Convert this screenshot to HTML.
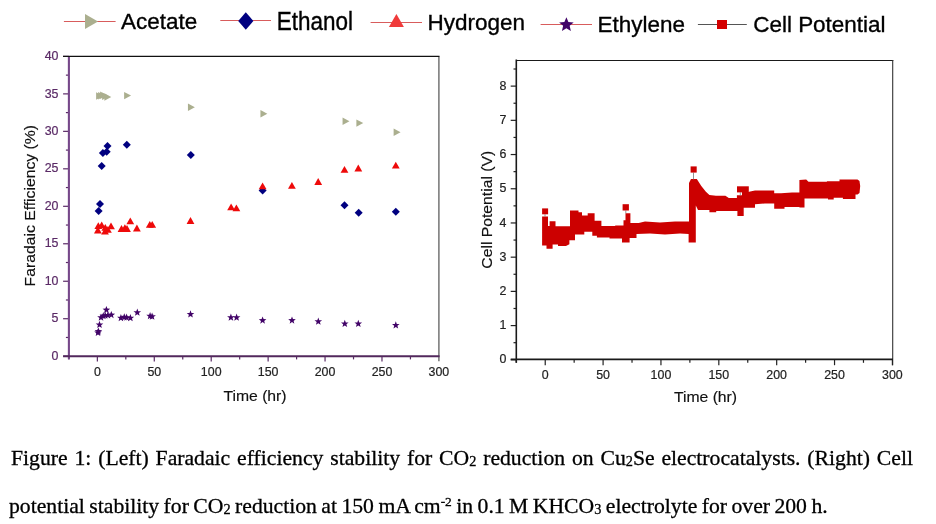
<!DOCTYPE html><html><head><meta charset="utf-8"><title>Figure 1</title><style>
html,body{margin:0;padding:0;background:#fff;}
body{width:936px;height:524px;overflow:hidden;position:relative;}
svg{position:absolute;left:0;top:0;}
.cap{position:absolute;left:11px;font-family:"Liberation Serif","Times New Roman",serif;font-size:21.7px;color:#000;white-space:nowrap;line-height:1;-webkit-text-stroke:0.3px #000;}
.cap sub{font-size:0.66em;vertical-align:-0.07em;line-height:0;}
.cap sup{font-size:0.62em;vertical-align:0.5em;line-height:0;}
</style></head><body>
<svg width="936" height="430" viewBox="0 0 936 430" font-family="Liberation Sans, Arial, sans-serif">
<line x1="63.9" y1="21.5" x2="115.6" y2="21.5" stroke="#d85c5c" stroke-width="1.05"/>
<polygon points="85.00,14.00 85.00,29.00 98.00,21.50" fill="#abaf8f"/>
<text transform="translate(121.10,28.60) scale(0.99,0.98)" font-size="22.7" fill="#000" stroke="#000" stroke-width="0.35">Acetate</text>
<line x1="220.3" y1="20.5" x2="271.0" y2="20.5" stroke="#d85c5c" stroke-width="1.05"/>
<polygon points="245.80,12.30 253.40,21.00 245.80,29.70 238.20,21.00" fill="#000080"/>
<text transform="translate(276.70,29.60) scale(0.99,1.12)" font-size="22.7" fill="#000" stroke="#000" stroke-width="0.35">Ethanol</text>
<line x1="370.6" y1="22.5" x2="422.0" y2="22.5" stroke="#d85c5c" stroke-width="1.05"/>
<polygon points="388.90,27.00 403.90,27.00 396.40,14.00" fill="#f03a3a"/>
<text transform="translate(427.50,30.00) scale(0.99,1.0)" font-size="22.7" fill="#000" stroke="#000" stroke-width="0.35">Hydrogen</text>
<line x1="540.6" y1="24.5" x2="592.0" y2="24.5" stroke="#d85c5c" stroke-width="1.05"/>
<polygon points="566.40,17.20 568.41,22.03 573.63,22.45 569.65,25.86 570.87,30.95 566.40,28.22 561.93,30.95 563.15,25.86 559.17,22.45 564.39,22.03" fill="#420468"/>
<text transform="translate(597.50,31.50) scale(0.99,1.0)" font-size="22.7" fill="#000" stroke="#000" stroke-width="0.35">Ethylene</text>
<line x1="697.9" y1="24.5" x2="746.8" y2="24.5" stroke="#555" stroke-width="1.05"/>
<rect x="717.0" y="20.0" width="10" height="9" fill="#d40000"/>
<text transform="translate(753.20,31.50) scale(0.99,1.0)" font-size="22.7" fill="#000" stroke="#000" stroke-width="0.35">Cell Potential</text>
<line x1="438.9" y1="56.4" x2="438.9" y2="361.2" stroke="#6a6a6a" stroke-width="1.4"/>
<line x1="63.10" y1="356.20" x2="68.90" y2="356.20" stroke="#5a2a66" stroke-width="1.2"/>
<text x="58.50" y="359.85" font-size="12.4" fill="#5a2a66" stroke="#5a2a66" stroke-width="0.2" text-anchor="end">0</text>
<line x1="65.90" y1="337.46" x2="68.90" y2="337.46" stroke="#5a2a66" stroke-width="1.2"/>
<line x1="63.10" y1="318.72" x2="68.90" y2="318.72" stroke="#5a2a66" stroke-width="1.2"/>
<text x="58.50" y="322.37" font-size="12.4" fill="#5a2a66" stroke="#5a2a66" stroke-width="0.2" text-anchor="end">5</text>
<line x1="65.90" y1="299.99" x2="68.90" y2="299.99" stroke="#5a2a66" stroke-width="1.2"/>
<line x1="63.10" y1="281.25" x2="68.90" y2="281.25" stroke="#5a2a66" stroke-width="1.2"/>
<text x="58.50" y="284.90" font-size="12.4" fill="#5a2a66" stroke="#5a2a66" stroke-width="0.2" text-anchor="end">10</text>
<line x1="65.90" y1="262.51" x2="68.90" y2="262.51" stroke="#5a2a66" stroke-width="1.2"/>
<line x1="63.10" y1="243.77" x2="68.90" y2="243.77" stroke="#5a2a66" stroke-width="1.2"/>
<text x="58.50" y="247.42" font-size="12.4" fill="#5a2a66" stroke="#5a2a66" stroke-width="0.2" text-anchor="end">15</text>
<line x1="65.90" y1="225.04" x2="68.90" y2="225.04" stroke="#5a2a66" stroke-width="1.2"/>
<line x1="63.10" y1="206.30" x2="68.90" y2="206.30" stroke="#5a2a66" stroke-width="1.2"/>
<text x="58.50" y="209.95" font-size="12.4" fill="#5a2a66" stroke="#5a2a66" stroke-width="0.2" text-anchor="end">20</text>
<line x1="65.90" y1="187.56" x2="68.90" y2="187.56" stroke="#5a2a66" stroke-width="1.2"/>
<line x1="63.10" y1="168.82" x2="68.90" y2="168.82" stroke="#5a2a66" stroke-width="1.2"/>
<text x="58.50" y="172.47" font-size="12.4" fill="#5a2a66" stroke="#5a2a66" stroke-width="0.2" text-anchor="end">25</text>
<line x1="65.90" y1="150.09" x2="68.90" y2="150.09" stroke="#5a2a66" stroke-width="1.2"/>
<line x1="63.10" y1="131.35" x2="68.90" y2="131.35" stroke="#5a2a66" stroke-width="1.2"/>
<text x="58.50" y="135.00" font-size="12.4" fill="#5a2a66" stroke="#5a2a66" stroke-width="0.2" text-anchor="end">30</text>
<line x1="65.90" y1="112.61" x2="68.90" y2="112.61" stroke="#5a2a66" stroke-width="1.2"/>
<line x1="63.10" y1="93.88" x2="68.90" y2="93.88" stroke="#5a2a66" stroke-width="1.2"/>
<text x="58.50" y="97.53" font-size="12.4" fill="#5a2a66" stroke="#5a2a66" stroke-width="0.2" text-anchor="end">35</text>
<line x1="65.90" y1="75.14" x2="68.90" y2="75.14" stroke="#5a2a66" stroke-width="1.2"/>
<line x1="63.10" y1="56.40" x2="68.90" y2="56.40" stroke="#5a2a66" stroke-width="1.2"/>
<text x="58.50" y="60.05" font-size="12.4" fill="#5a2a66" stroke="#5a2a66" stroke-width="0.2" text-anchor="end">40</text>
<line x1="68.90" y1="356.2" x2="68.90" y2="359.40" stroke="#5a2a66" stroke-width="1.2"/>
<line x1="97.36" y1="356.2" x2="97.36" y2="361.60" stroke="#5a2a66" stroke-width="1.2"/>
<text x="97.36" y="376.00" font-size="12.4" fill="#222" stroke="#222" stroke-width="0.2" text-anchor="middle">0</text>
<line x1="125.82" y1="356.2" x2="125.82" y2="359.40" stroke="#5a2a66" stroke-width="1.2"/>
<line x1="154.28" y1="356.2" x2="154.28" y2="361.60" stroke="#5a2a66" stroke-width="1.2"/>
<text x="154.28" y="376.00" font-size="12.4" fill="#222" stroke="#222" stroke-width="0.2" text-anchor="middle">50</text>
<line x1="182.75" y1="356.2" x2="182.75" y2="359.40" stroke="#5a2a66" stroke-width="1.2"/>
<line x1="211.21" y1="356.2" x2="211.21" y2="361.60" stroke="#5a2a66" stroke-width="1.2"/>
<text x="211.21" y="376.00" font-size="12.4" fill="#222" stroke="#222" stroke-width="0.2" text-anchor="middle">100</text>
<line x1="239.67" y1="356.2" x2="239.67" y2="359.40" stroke="#5a2a66" stroke-width="1.2"/>
<line x1="268.13" y1="356.2" x2="268.13" y2="361.60" stroke="#5a2a66" stroke-width="1.2"/>
<text x="268.13" y="376.00" font-size="12.4" fill="#222" stroke="#222" stroke-width="0.2" text-anchor="middle">150</text>
<line x1="296.59" y1="356.2" x2="296.59" y2="359.40" stroke="#5a2a66" stroke-width="1.2"/>
<line x1="325.05" y1="356.2" x2="325.05" y2="361.60" stroke="#5a2a66" stroke-width="1.2"/>
<text x="325.05" y="376.00" font-size="12.4" fill="#222" stroke="#222" stroke-width="0.2" text-anchor="middle">200</text>
<line x1="353.52" y1="356.2" x2="353.52" y2="359.40" stroke="#5a2a66" stroke-width="1.2"/>
<line x1="381.98" y1="356.2" x2="381.98" y2="361.60" stroke="#5a2a66" stroke-width="1.2"/>
<text x="381.98" y="376.00" font-size="12.4" fill="#222" stroke="#222" stroke-width="0.2" text-anchor="middle">250</text>
<line x1="410.44" y1="356.2" x2="410.44" y2="359.40" stroke="#5a2a66" stroke-width="1.2"/>
<text x="438.90" y="376.00" font-size="12.4" fill="#222" stroke="#222" stroke-width="0.2" text-anchor="middle">300</text>
<line x1="68.9" y1="55.9" x2="68.9" y2="359.2" stroke="#76488a" stroke-width="2.1"/>
<line x1="63.10000000000001" y1="356.2" x2="439.59999999999997" y2="356.2" stroke="#52285c" stroke-width="2"/>
<line x1="63" y1="56.4" x2="439.5" y2="56.4" stroke="#111" stroke-width="1.3"/>
<text transform="translate(255.00,401.2) scale(1.05,1)" font-size="15" fill="#111" stroke="#111" stroke-width="0.15" text-anchor="middle">Time (hr)</text>
<text transform="translate(34.6,205.70) rotate(-90) scale(1.05,1)" font-size="15" fill="#111" stroke="#111" stroke-width="0.15" text-anchor="middle">Faradaic Efficiency (%)</text>
<polygon points="96.15,92.30 96.15,99.70 103.05,96.00" fill="#abaf8f"/>
<polygon points="98.15,92.10 98.15,99.50 105.05,95.80" fill="#abaf8f"/>
<polygon points="100.15,91.60 100.15,99.00 107.05,95.30" fill="#abaf8f"/>
<polygon points="102.15,92.50 102.15,99.90 109.05,96.20" fill="#abaf8f"/>
<polygon points="104.35,93.30 104.35,100.70 111.25,97.00" fill="#abaf8f"/>
<polygon points="124.15,91.90 124.15,99.30 131.05,95.60" fill="#abaf8f"/>
<polygon points="187.95,103.50 187.95,110.90 194.85,107.20" fill="#abaf8f"/>
<polygon points="260.45,110.00 260.45,117.40 267.35,113.70" fill="#abaf8f"/>
<polygon points="342.55,117.60 342.55,125.00 349.45,121.30" fill="#abaf8f"/>
<polygon points="356.35,119.40 356.35,126.80 363.25,123.10" fill="#abaf8f"/>
<polygon points="393.65,128.60 393.65,136.00 400.55,132.30" fill="#abaf8f"/>
<polygon points="101.70,162.10 105.70,166.10 101.70,170.10 97.70,166.10" fill="#000080"/>
<polygon points="102.90,148.90 106.90,152.90 102.90,156.90 98.90,152.90" fill="#000080"/>
<polygon points="106.70,147.80 110.70,151.80 106.70,155.80 102.70,151.80" fill="#000080"/>
<polygon points="107.50,142.10 111.50,146.10 107.50,150.10 103.50,146.10" fill="#000080"/>
<polygon points="126.80,140.80 130.80,144.80 126.80,148.80 122.80,144.80" fill="#000080"/>
<polygon points="190.80,151.10 194.80,155.10 190.80,159.10 186.80,155.10" fill="#000080"/>
<polygon points="100.00,200.00 104.00,204.00 100.00,208.00 96.00,204.00" fill="#000080"/>
<polygon points="98.60,207.10 102.60,211.10 98.60,215.10 94.60,211.10" fill="#000080"/>
<polygon points="262.60,186.40 266.60,190.40 262.60,194.40 258.60,190.40" fill="#000080"/>
<polygon points="344.50,201.30 348.50,205.30 344.50,209.30 340.50,205.30" fill="#000080"/>
<polygon points="358.70,208.80 362.70,212.80 358.70,216.80 354.70,212.80" fill="#000080"/>
<polygon points="395.80,207.70 399.80,211.70 395.80,215.70 391.80,211.70" fill="#000080"/>
<polygon points="94.40,229.00 102.20,229.00 98.30,222.20" fill="#ee0a0a"/>
<polygon points="97.80,228.20 105.60,228.20 101.70,221.40" fill="#ee0a0a"/>
<polygon points="107.10,229.20 114.90,229.20 111.00,222.40" fill="#ee0a0a"/>
<polygon points="104.00,232.80 111.80,232.80 107.90,226.00" fill="#ee0a0a"/>
<polygon points="94.00,233.40 101.80,233.40 97.90,226.60" fill="#ee0a0a"/>
<polygon points="101.10,234.50 108.90,234.50 105.00,227.70" fill="#ee0a0a"/>
<polygon points="101.40,230.70 109.20,230.70 105.30,223.90" fill="#ee0a0a"/>
<polygon points="117.60,231.90 125.40,231.90 121.50,225.10" fill="#ee0a0a"/>
<polygon points="121.00,231.00 128.80,231.00 124.90,224.20" fill="#ee0a0a"/>
<polygon points="123.10,231.90 130.90,231.90 127.00,225.10" fill="#ee0a0a"/>
<polygon points="126.40,224.20 134.20,224.20 130.30,217.40" fill="#ee0a0a"/>
<polygon points="133.00,231.40 140.80,231.40 136.90,224.60" fill="#ee0a0a"/>
<polygon points="145.90,227.80 153.70,227.80 149.80,221.00" fill="#ee0a0a"/>
<polygon points="148.30,227.80 156.10,227.80 152.20,221.00" fill="#ee0a0a"/>
<polygon points="186.60,223.90 194.40,223.90 190.50,217.10" fill="#ee0a0a"/>
<polygon points="227.20,210.20 235.00,210.20 231.10,203.40" fill="#ee0a0a"/>
<polygon points="232.50,211.30 240.30,211.30 236.40,204.50" fill="#ee0a0a"/>
<polygon points="258.70,189.20 266.50,189.20 262.60,182.40" fill="#ee0a0a"/>
<polygon points="288.00,188.80 295.80,188.80 291.90,182.00" fill="#ee0a0a"/>
<polygon points="314.30,184.90 322.10,184.90 318.20,178.10" fill="#ee0a0a"/>
<polygon points="340.60,172.80 348.40,172.80 344.50,166.00" fill="#ee0a0a"/>
<polygon points="354.40,171.40 362.20,171.40 358.30,164.60" fill="#ee0a0a"/>
<polygon points="391.90,168.60 399.70,168.60 395.80,161.80" fill="#ee0a0a"/>
<polygon points="98.00,328.80 98.99,331.44 101.80,331.56 99.60,333.32 100.35,336.04 98.00,334.48 95.65,336.04 96.40,333.32 94.20,331.56 97.01,331.44" fill="#420468"/>
<polygon points="98.40,327.40 99.39,330.04 102.20,330.16 100.00,331.92 100.75,334.64 98.40,333.08 96.05,334.64 96.80,331.92 94.60,330.16 97.41,330.04" fill="#420468"/>
<polygon points="99.50,320.80 100.49,323.44 103.30,323.56 101.10,325.32 101.85,328.04 99.50,326.48 97.15,328.04 97.90,325.32 95.70,323.56 98.51,323.44" fill="#420468"/>
<polygon points="101.00,313.60 101.99,316.24 104.80,316.36 102.60,318.12 103.35,320.84 101.00,319.28 98.65,320.84 99.40,318.12 97.20,316.36 100.01,316.24" fill="#420468"/>
<polygon points="103.30,312.00 104.29,314.64 107.10,314.76 104.90,316.52 105.65,319.24 103.30,317.68 100.95,319.24 101.70,316.52 99.50,314.76 102.31,314.64" fill="#420468"/>
<polygon points="105.20,311.50 106.19,314.14 109.00,314.26 106.80,316.02 107.55,318.74 105.20,317.18 102.85,318.74 103.60,316.02 101.40,314.26 104.21,314.14" fill="#420468"/>
<polygon points="106.40,305.90 107.39,308.54 110.20,308.66 108.00,310.42 108.75,313.14 106.40,311.58 104.05,313.14 104.80,310.42 102.60,308.66 105.41,308.54" fill="#420468"/>
<polygon points="107.90,311.30 108.89,313.94 111.70,314.06 109.50,315.82 110.25,318.54 107.90,316.98 105.55,318.54 106.30,315.82 104.10,314.06 106.91,313.94" fill="#420468"/>
<polygon points="111.30,310.90 112.29,313.54 115.10,313.66 112.90,315.42 113.65,318.14 111.30,316.58 108.95,318.14 109.70,315.42 107.50,313.66 110.31,313.54" fill="#420468"/>
<polygon points="120.90,314.00 121.89,316.64 124.70,316.76 122.50,318.52 123.25,321.24 120.90,319.68 118.55,321.24 119.30,318.52 117.10,316.76 119.91,316.64" fill="#420468"/>
<polygon points="124.30,313.20 125.29,315.84 128.10,315.96 125.90,317.72 126.65,320.44 124.30,318.88 121.95,320.44 122.70,317.72 120.50,315.96 123.31,315.84" fill="#420468"/>
<polygon points="126.60,313.60 127.59,316.24 130.40,316.36 128.20,318.12 128.95,320.84 126.60,319.28 124.25,320.84 125.00,318.12 122.80,316.36 125.61,316.24" fill="#420468"/>
<polygon points="130.40,314.00 131.39,316.64 134.20,316.76 132.00,318.52 132.75,321.24 130.40,319.68 128.05,321.24 128.80,318.52 126.60,316.76 129.41,316.64" fill="#420468"/>
<polygon points="137.30,308.60 138.29,311.24 141.10,311.36 138.90,313.12 139.65,315.84 137.30,314.28 134.95,315.84 135.70,313.12 133.50,311.36 136.31,311.24" fill="#420468"/>
<polygon points="150.10,312.00 151.09,314.64 153.90,314.76 151.70,316.52 152.45,319.24 150.10,317.68 147.75,319.24 148.50,316.52 146.30,314.76 149.11,314.64" fill="#420468"/>
<polygon points="152.10,312.60 153.09,315.24 155.90,315.36 153.70,317.12 154.45,319.84 152.10,318.28 149.75,319.84 150.50,317.12 148.30,315.36 151.11,315.24" fill="#420468"/>
<polygon points="190.50,310.30 191.49,312.94 194.30,313.06 192.10,314.82 192.85,317.54 190.50,315.98 188.15,317.54 188.90,314.82 186.70,313.06 189.51,312.94" fill="#420468"/>
<polygon points="230.90,313.50 231.89,316.14 234.70,316.26 232.50,318.02 233.25,320.74 230.90,319.18 228.55,320.74 229.30,318.02 227.10,316.26 229.91,316.14" fill="#420468"/>
<polygon points="236.60,313.50 237.59,316.14 240.40,316.26 238.20,318.02 238.95,320.74 236.60,319.18 234.25,320.74 235.00,318.02 232.80,316.26 235.61,316.14" fill="#420468"/>
<polygon points="262.60,316.40 263.59,319.04 266.40,319.16 264.20,320.92 264.95,323.64 262.60,322.08 260.25,323.64 261.00,320.92 258.80,319.16 261.61,319.04" fill="#420468"/>
<polygon points="292.00,316.40 292.99,319.04 295.80,319.16 293.60,320.92 294.35,323.64 292.00,322.08 289.65,323.64 290.40,320.92 288.20,319.16 291.01,319.04" fill="#420468"/>
<polygon points="318.30,317.50 319.29,320.14 322.10,320.26 319.90,322.02 320.65,324.74 318.30,323.18 315.95,324.74 316.70,322.02 314.50,320.26 317.31,320.14" fill="#420468"/>
<polygon points="344.80,319.80 345.79,322.44 348.60,322.56 346.40,324.32 347.15,327.04 344.80,325.48 342.45,327.04 343.20,324.32 341.00,322.56 343.81,322.44" fill="#420468"/>
<polygon points="358.30,319.80 359.29,322.44 362.10,322.56 359.90,324.32 360.65,327.04 358.30,325.48 355.95,327.04 356.70,324.32 354.50,322.56 357.31,322.44" fill="#420468"/>
<polygon points="395.80,321.30 396.79,323.94 399.60,324.06 397.40,325.82 398.15,328.54 395.80,326.98 393.45,328.54 394.20,325.82 392.00,324.06 394.81,323.94" fill="#420468"/>
<line x1="516.3" y1="60.5" x2="893.3" y2="60.5" stroke="#1a1a1a" stroke-width="1.1"/>
<line x1="892.6999999999999" y1="60.0" x2="892.6999999999999" y2="365.3" stroke="#333" stroke-width="1.1"/>
<line x1="510.70" y1="359.80" x2="516.30" y2="359.80" stroke="#222" stroke-width="1.2"/>
<text x="506.30" y="363.45" font-size="12.4" fill="#222" stroke="#222" stroke-width="0.2" text-anchor="end">0</text>
<line x1="513.50" y1="342.69" x2="516.30" y2="342.69" stroke="#222" stroke-width="1.2"/>
<line x1="510.70" y1="325.59" x2="516.30" y2="325.59" stroke="#222" stroke-width="1.2"/>
<text x="506.30" y="329.24" font-size="12.4" fill="#222" stroke="#222" stroke-width="0.2" text-anchor="end">1</text>
<line x1="513.50" y1="308.49" x2="516.30" y2="308.49" stroke="#222" stroke-width="1.2"/>
<line x1="510.70" y1="291.38" x2="516.30" y2="291.38" stroke="#222" stroke-width="1.2"/>
<text x="506.30" y="295.03" font-size="12.4" fill="#222" stroke="#222" stroke-width="0.2" text-anchor="end">2</text>
<line x1="513.50" y1="274.27" x2="516.30" y2="274.27" stroke="#222" stroke-width="1.2"/>
<line x1="510.70" y1="257.17" x2="516.30" y2="257.17" stroke="#222" stroke-width="1.2"/>
<text x="506.30" y="260.82" font-size="12.4" fill="#222" stroke="#222" stroke-width="0.2" text-anchor="end">3</text>
<line x1="513.50" y1="240.06" x2="516.30" y2="240.06" stroke="#222" stroke-width="1.2"/>
<line x1="510.70" y1="222.96" x2="516.30" y2="222.96" stroke="#222" stroke-width="1.2"/>
<text x="506.30" y="226.61" font-size="12.4" fill="#222" stroke="#222" stroke-width="0.2" text-anchor="end">4</text>
<line x1="513.50" y1="205.86" x2="516.30" y2="205.86" stroke="#222" stroke-width="1.2"/>
<line x1="510.70" y1="188.75" x2="516.30" y2="188.75" stroke="#222" stroke-width="1.2"/>
<text x="506.30" y="192.40" font-size="12.4" fill="#222" stroke="#222" stroke-width="0.2" text-anchor="end">5</text>
<line x1="513.50" y1="171.65" x2="516.30" y2="171.65" stroke="#222" stroke-width="1.2"/>
<line x1="510.70" y1="154.54" x2="516.30" y2="154.54" stroke="#222" stroke-width="1.2"/>
<text x="506.30" y="158.19" font-size="12.4" fill="#222" stroke="#222" stroke-width="0.2" text-anchor="end">6</text>
<line x1="513.50" y1="137.44" x2="516.30" y2="137.44" stroke="#222" stroke-width="1.2"/>
<line x1="510.70" y1="120.33" x2="516.30" y2="120.33" stroke="#222" stroke-width="1.2"/>
<text x="506.30" y="123.98" font-size="12.4" fill="#222" stroke="#222" stroke-width="0.2" text-anchor="end">7</text>
<line x1="513.50" y1="103.23" x2="516.30" y2="103.23" stroke="#222" stroke-width="1.2"/>
<line x1="510.70" y1="86.12" x2="516.30" y2="86.12" stroke="#222" stroke-width="1.2"/>
<text x="506.30" y="89.77" font-size="12.4" fill="#222" stroke="#222" stroke-width="0.2" text-anchor="end">8</text>
<line x1="513.50" y1="69.01" x2="516.30" y2="69.01" stroke="#222" stroke-width="1.2"/>
<line x1="516.30" y1="359.8" x2="516.30" y2="362.80" stroke="#222" stroke-width="1.2"/>
<line x1="545.23" y1="359.8" x2="545.23" y2="365.20" stroke="#222" stroke-width="1.2"/>
<text x="545.23" y="379.40" font-size="12.4" fill="#222" stroke="#222" stroke-width="0.2" text-anchor="middle">0</text>
<line x1="574.16" y1="359.8" x2="574.16" y2="362.80" stroke="#222" stroke-width="1.2"/>
<line x1="603.09" y1="359.8" x2="603.09" y2="365.20" stroke="#222" stroke-width="1.2"/>
<text x="603.09" y="379.40" font-size="12.4" fill="#222" stroke="#222" stroke-width="0.2" text-anchor="middle">50</text>
<line x1="632.02" y1="359.8" x2="632.02" y2="362.80" stroke="#222" stroke-width="1.2"/>
<line x1="660.95" y1="359.8" x2="660.95" y2="365.20" stroke="#222" stroke-width="1.2"/>
<text x="660.95" y="379.40" font-size="12.4" fill="#222" stroke="#222" stroke-width="0.2" text-anchor="middle">100</text>
<line x1="689.88" y1="359.8" x2="689.88" y2="362.80" stroke="#222" stroke-width="1.2"/>
<line x1="718.82" y1="359.8" x2="718.82" y2="365.20" stroke="#222" stroke-width="1.2"/>
<text x="718.82" y="379.40" font-size="12.4" fill="#222" stroke="#222" stroke-width="0.2" text-anchor="middle">150</text>
<line x1="747.75" y1="359.8" x2="747.75" y2="362.80" stroke="#222" stroke-width="1.2"/>
<line x1="776.68" y1="359.8" x2="776.68" y2="365.20" stroke="#222" stroke-width="1.2"/>
<text x="776.68" y="379.40" font-size="12.4" fill="#222" stroke="#222" stroke-width="0.2" text-anchor="middle">200</text>
<line x1="805.61" y1="359.8" x2="805.61" y2="362.80" stroke="#222" stroke-width="1.2"/>
<line x1="834.54" y1="359.8" x2="834.54" y2="365.20" stroke="#222" stroke-width="1.2"/>
<text x="834.54" y="379.40" font-size="12.4" fill="#222" stroke="#222" stroke-width="0.2" text-anchor="middle">250</text>
<line x1="863.47" y1="359.8" x2="863.47" y2="362.80" stroke="#222" stroke-width="1.2"/>
<line x1="892.40" y1="359.8" x2="892.40" y2="365.20" stroke="#222" stroke-width="1.2"/>
<text x="892.40" y="379.40" font-size="12.4" fill="#222" stroke="#222" stroke-width="0.2" text-anchor="middle">300</text>
<line x1="516.3" y1="59.4" x2="516.3" y2="362.8" stroke="#1a1a1a" stroke-width="1.6"/>
<line x1="510.69999999999993" y1="359.40000000000003" x2="893.0" y2="359.40000000000003" stroke="#1a1a1a" stroke-width="1.6"/>
<text transform="translate(705.50,402.4) scale(1.05,1)" font-size="15" fill="#111" stroke="#111" stroke-width="0.15" text-anchor="middle">Time (hr)</text>
<text transform="translate(492.2,209.70) rotate(-90) scale(1.05,1)" font-size="15" fill="#111" stroke="#111" stroke-width="0.15" text-anchor="middle">Cell Potential (V)</text>
<polygon points="542.1,216.5 548.0,216.5 548.0,226.0 549.6,226.0 549.6,221.2 555.5,221.2 555.5,226.3 570.0,226.3 570.0,210.6 578.5,210.6 578.5,212.3 582.0,212.3 582.0,215.6 587.7,215.6 587.7,213.3 594.6,213.3 594.6,220.8 601.4,220.8 601.4,225.9 615.2,225.9 615.2,225.4 623.5,225.4 623.5,220.2 625.5,220.2 625.5,213.3 630.4,213.3 630.4,223.1 638.7,223.1 645.0,221.5 660.0,222.5 675.0,221.5 689.0,221.5 689.0,183.0 691.0,179.0 696.8,179.0 701.3,185.9 705.9,191.7 709.4,195.1 716.0,195.7 725.4,195.7 728.8,198.0 736.9,198.0 736.9,195.3 742.0,195.3 742.0,192.0 749.0,192.0 749.0,191.7 755.0,190.5 765.0,190.4 774.2,190.4 774.2,193.2 781.0,193.2 792.0,192.6 799.4,192.6 799.4,180.0 806.2,179.5 808.5,181.8 826.9,181.8 826.9,181.2 839.5,181.2 839.5,179.5 857.5,179.5 859.5,181.0 860.2,186.0 859.5,193.0 857.5,194.4 855.5,194.4 855.5,199.0 842.9,199.0 842.9,197.8 833.7,197.8 833.7,199.5 828.0,199.5 828.0,198.4 804.5,198.4 804.5,207.5 799.4,207.5 799.4,207.0 784.5,207.0 784.5,208.7 774.2,208.7 774.2,203.5 765.0,203.5 755.0,204.3 755.0,207.7 743.7,207.7 743.7,216.0 737.4,216.0 737.4,211.1 716.2,211.1 716.2,212.3 709.4,212.3 709.4,210.0 698.0,210.0 695.8,205.5 695.8,242.5 688.6,242.5 688.6,233.9 680.0,233.5 665.0,234.5 650.0,233.5 636.5,234.0 636.5,238.0 629.6,238.0 629.6,242.5 622.0,242.5 622.0,238.5 609.5,238.5 609.5,237.4 596.9,237.4 596.9,235.7 592.3,235.7 592.3,231.7 584.3,231.7 584.3,234.5 575.0,234.5 575.0,240.2 569.4,240.2 569.4,244.3 566.0,246.0 558.0,246.0 558.0,244.6 552.6,244.6 552.6,248.8 546.5,248.8 546.5,245.6 542.1,245.6" fill="#cc0000"/>
<line x1="545.0" y1="214.3" x2="545.0" y2="216.6" stroke="#777" stroke-width="0.8"/>
<rect x="542.1" y="208.4" width="6.0" height="5.9" fill="#cc0000"/>
<line x1="625.8" y1="210.5" x2="625.8" y2="213.4" stroke="#777" stroke-width="0.8"/>
<rect x="622.6" y="204.2" width="6.3" height="6.3" fill="#cc0000"/>
<line x1="693.5" y1="172.6" x2="693.5" y2="179.5" stroke="#777" stroke-width="0.8"/>
<rect x="690.6" y="166.4" width="6.1" height="6.2" fill="#cc0000"/>
<line x1="740.3" y1="192.4" x2="740.3" y2="195.5" stroke="#777" stroke-width="0.8"/>
<rect x="737.0" y="186.3" width="11.8" height="6.1" fill="#cc0000"/>
</svg>
<div class="cap" style="top:448px;width:902px;text-align:justify;text-align-last:justify;">Figure 1: (Left) Faradaic efficiency stability for CO<sub>2</sub> reduction on Cu<sub>2</sub>Se electrocatalysts. (Right) Cell</div>
<div class="cap" style="top:496px;left:9px;word-spacing:-1px;">potential stability for CO<sub>2</sub> reduction at 150 mA cm<sup>-2</sup> in 0.1 M KHCO<sub>3</sub> electrolyte for over 200 h.</div>
</body></html>
